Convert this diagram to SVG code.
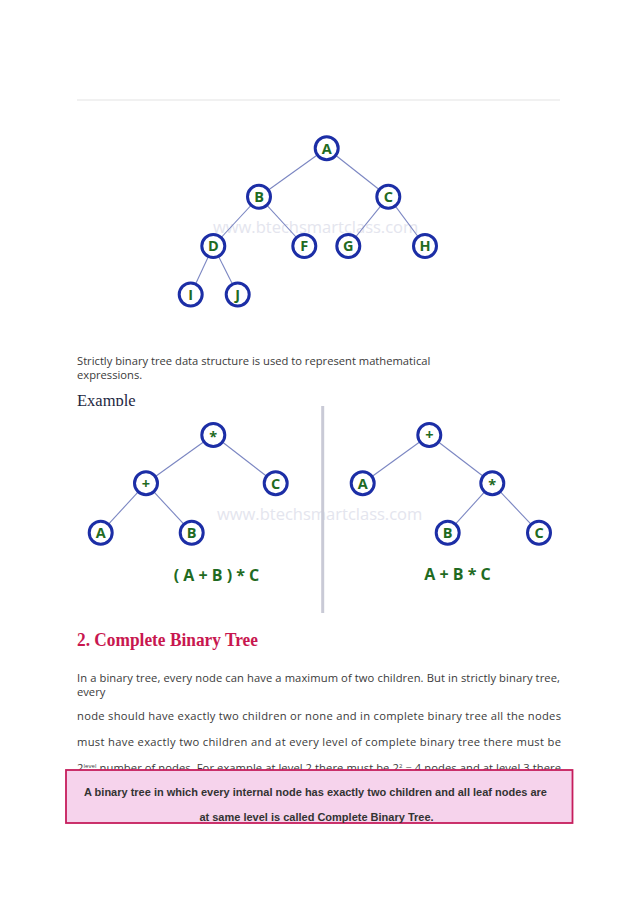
<svg xmlns="http://www.w3.org/2000/svg" width="638" height="903" viewBox="0 0 638 903">
<style>
.edge{stroke:#7b86c2;stroke-width:1.1;fill:none}
.node circle{fill:#fff;stroke:#1c2ea6;stroke-width:3}
.node text{font-family:"Open Sans","Liberation Sans",sans-serif;font-weight:bold;font-size:14.5px;fill:#1f6b22;text-anchor:middle}
.wm{font-family:"Open Sans","Liberation Sans",sans-serif;font-size:16.5px;fill:#e4e5ee}
.body{font-family:"Open Sans","Noto Sans",sans-serif;font-size:11.2px;fill:#3a3a3a}
.expr{font-family:"Open Sans","Liberation Sans",sans-serif;font-weight:bold;font-size:16px;fill:#1f6b22;text-anchor:middle}
.box{font-family:"Liberation Sans",Arial,sans-serif;font-weight:bold;font-size:11px;fill:#333}
</style>
<defs>
<clipPath id="exclip"><rect x="60" y="380" width="200" height="26"/></clipPath>
</defs>
<rect width="638" height="903" fill="#fff"/>
<line x1="77" y1="100" x2="560" y2="100" stroke="#e3e3e3" stroke-width="1"/>

<!-- Tree 1 -->
<text class="wm" x="213" y="233">www.btechsmartclass.com</text>
<g id="edges1">
<line class="edge" x1="326.7" y1="148.3" x2="259" y2="196.7"/>
<line class="edge" x1="326.7" y1="148.3" x2="388.3" y2="196.7"/>
<line class="edge" x1="259" y1="196.7" x2="213.3" y2="246"/>
<line class="edge" x1="259" y1="196.7" x2="304.3" y2="246"/>
<line class="edge" x1="388.3" y1="196.7" x2="348.3" y2="246"/>
<line class="edge" x1="388.3" y1="196.7" x2="425" y2="246"/>
<line class="edge" x1="213.3" y1="246" x2="190.7" y2="294.5"/>
<line class="edge" x1="213.3" y1="246" x2="237.7" y2="294.5"/>
</g>
<g id="t1A" class="node"><circle cx="326.7" cy="148.3" r="11.5"/><text x="326.7" y="153.5">A</text></g>
<g id="t1B" class="node"><circle cx="259" cy="196.7" r="11.5"/><text x="259" y="201.9">B</text></g>
<g id="t1C" class="node"><circle cx="388.3" cy="196.7" r="11.5"/><text x="388.3" y="201.9">C</text></g>
<g id="t1D" class="node"><circle cx="213.3" cy="246" r="11.5"/><text x="213.3" y="251.2">D</text></g>
<g id="t1F" class="node"><circle cx="304.3" cy="246" r="11.5"/><text x="304.3" y="251.2">F</text></g>
<g id="t1G" class="node"><circle cx="348.3" cy="246" r="11.5"/><text x="348.3" y="251.2">G</text></g>
<g id="t1H" class="node"><circle cx="425" cy="246" r="11.5"/><text x="425" y="251.2">H</text></g>
<g id="t1I" class="node"><circle cx="190.7" cy="294.5" r="11.5"/><text x="190.7" y="299.7">I</text></g>
<g id="t1J" class="node"><circle cx="237.7" cy="294.5" r="11.5"/><text x="237.7" y="299.7">J</text></g>

<text class="body" x="77" y="365">Strictly binary tree data structure is used to represent mathematical</text>
<text class="body" x="77" y="379">expressions.</text>
<text x="77" y="406" clip-path="url(#exclip)" font-family="Liberation Serif,'Times New Roman',serif" font-size="16.5" fill="#1d2742">Example</text>

<!-- Expression trees -->
<text class="wm" x="217" y="520">www.btechsmartclass.com</text>
<line x1="322.7" y1="406" x2="322.7" y2="613" stroke="#c9cad6" stroke-width="3"/>
<g id="edges2">
<line class="edge" x1="213.3" y1="435" x2="146" y2="483.3"/>
<line class="edge" x1="213.3" y1="435" x2="275.7" y2="483.3"/>
<line class="edge" x1="146" y1="483.3" x2="100.7" y2="532.7"/>
<line class="edge" x1="146" y1="483.3" x2="191.7" y2="532.7"/>
<line class="edge" x1="429.3" y1="435" x2="362.7" y2="483.3"/>
<line class="edge" x1="429.3" y1="435" x2="492.3" y2="483.3"/>
<line class="edge" x1="492.3" y1="483.3" x2="447.7" y2="532.7"/>
<line class="edge" x1="492.3" y1="483.3" x2="539" y2="532.7"/>
</g>
<g id="l-mul" class="node"><circle cx="213.3" cy="435" r="11.5"/><text x="213.3" y="441.5">*</text></g>
<g id="l-plus" class="node"><circle cx="146" cy="483.3" r="11.5"/><text x="146" y="488.5">+</text></g>
<g id="l-C" class="node"><circle cx="275.7" cy="483.3" r="11.5"/><text x="275.7" y="488.5">C</text></g>
<g id="l-A" class="node"><circle cx="100.7" cy="532.7" r="11.5"/><text x="100.7" y="537.9">A</text></g>
<g id="l-B" class="node"><circle cx="191.7" cy="532.7" r="11.5"/><text x="191.7" y="537.9">B</text></g>
<g id="r-plus" class="node"><circle cx="429.3" cy="435" r="11.5"/><text x="429.3" y="440.2">+</text></g>
<g id="r-A" class="node"><circle cx="362.7" cy="483.3" r="11.5"/><text x="362.7" y="488.5">A</text></g>
<g id="r-mul" class="node"><circle cx="492.3" cy="483.3" r="11.5"/><text x="492.3" y="489.8">*</text></g>
<g id="r-B" class="node"><circle cx="447.7" cy="532.7" r="11.5"/><text x="447.7" y="537.9">B</text></g>
<g id="r-C" class="node"><circle cx="539" cy="532.7" r="11.5"/><text x="539" y="537.9">C</text></g>
<text class="expr" x="216.5" y="581">( A + B ) * C</text>
<text class="expr" x="457.5" y="580">A + B * C</text>

<text x="77" y="646" font-family="Liberation Serif,'Times New Roman',serif" font-weight="bold" font-size="19" fill="#c8174f" textLength="181" lengthAdjust="spacingAndGlyphs">2. Complete Binary Tree</text>

<text class="body" x="77" y="682" textLength="483" lengthAdjust="spacing">In a binary tree, every node can have a maximum of two children. But in strictly binary tree,</text>
<text class="body" x="77" y="695.5">every</text>
<text class="body" x="77" y="720" textLength="484" lengthAdjust="spacing">node should have exactly two children or none and in complete binary tree all the nodes</text>
<text class="body" x="77" y="746" textLength="484" lengthAdjust="spacing">must have  exactly two children and at every level of complete binary tree there must be</text>
<text class="body" x="77" y="772" textLength="484" lengthAdjust="spacing">2<tspan font-size="6" dy="-4">level</tspan><tspan dy="4"> number of nodes.  For example at level 2 there must be 2</tspan><tspan font-size="6" dy="-4">2</tspan><tspan dy="4"> = 4 nodes and at level 3 there</tspan></text>

<g id="definition">
<rect x="66" y="770" width="506.5" height="53" fill="#f6d3ec" stroke="#c61d5c" stroke-width="1.8"/>
<text class="box" x="315.5" y="796" text-anchor="middle">A binary tree in which every internal node has exactly two children and all leaf nodes are</text>
<text class="box" x="316.5" y="821" text-anchor="middle">at same level is called Complete Binary Tree.</text>
</g>
</svg>
